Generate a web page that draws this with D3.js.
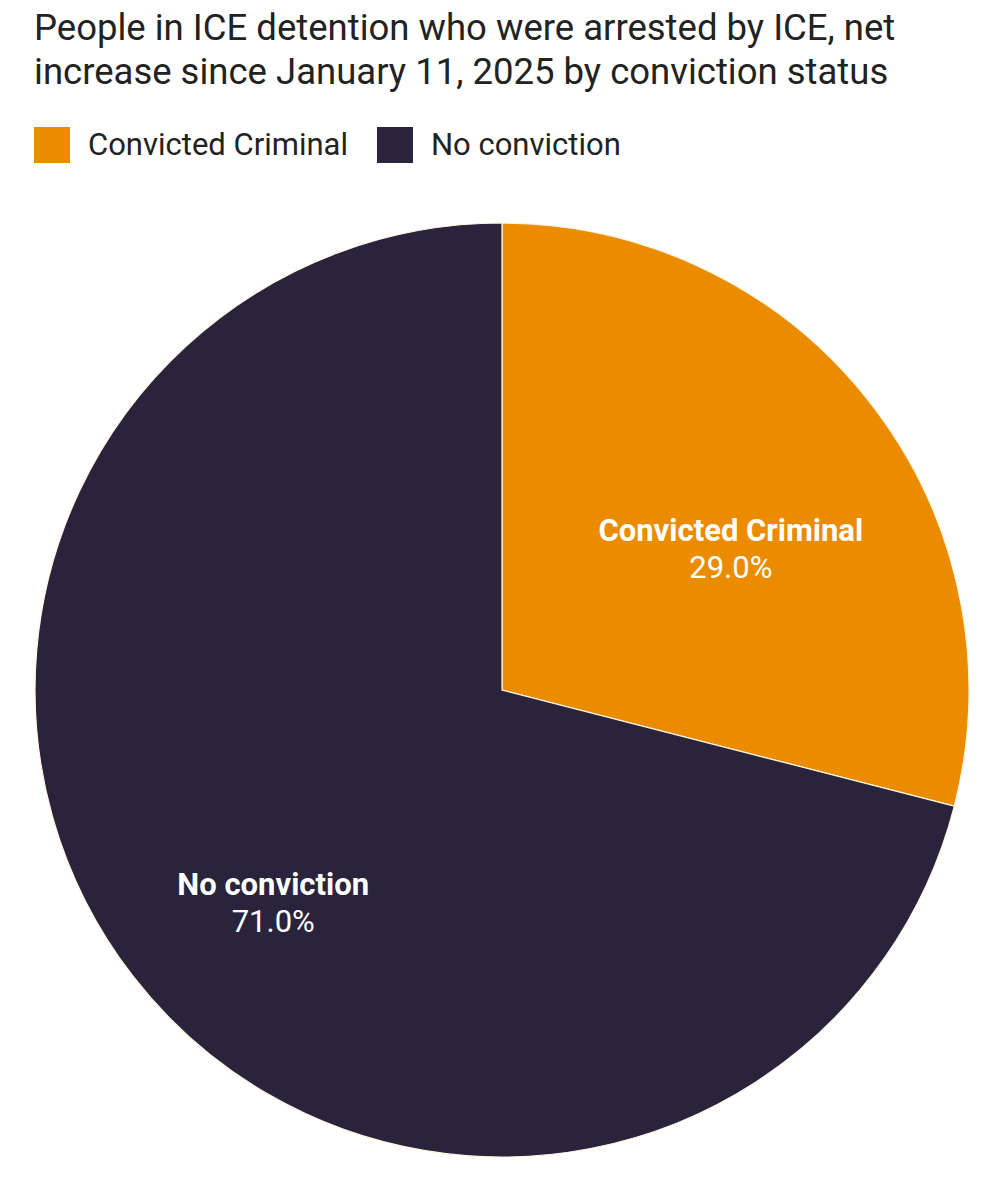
<!DOCTYPE html>
<html>
<head>
<meta charset="utf-8">
<script src="https://cdn.jsdelivr.net/npm/d3@7"></script>
<style>
  body { margin: 0; background: #fff; }
</style>
</head>
<body>
<script>
// data
const categories = ["Convicted Criminal", "No conviction"];
const shares = [29.0, 71.0];
const colors = ["#eb8c00", "#29233c"];
const titleLines = [
    "People in ICE detention who were arrested by ICE, net",
    "increase since January 11, 2025 by conviction status"
];

let width = 1007;
let height = 1200;
let cx = 502;
let cy = 690;
let radius = 467;

let svg = d3.select("body").append("svg")
    .attr("width", width)
    .attr("height", height)
    .attr("viewBox", [0, 0, width, height])
    .style("font-family", "Roboto, sans-serif");

// Title
svg.append("g")
    .selectAll("text")
    .data(titleLines)
    .join("text")
    .attr("x", 34)
    .attr("y", (d, i) => 40 + i * 44)
    .attr("font-size", "36.5px")
    .attr("fill", "#222")
    .text(d => d);

// Legend
const legend = svg.append("g")
    .attr("transform", "translate(34,127)");

let offset = 0;
categories.forEach((c, i) => {
    const row = legend.append("g")
        .attr("transform", `translate(${offset},0)`);
    row.append("rect")
        .attr("width", 36)
        .attr("height", 36)
        .attr("fill", colors[i]);
    const t = row.append("text")
        .attr("x", 54)
        .attr("y", 28)
        .attr("font-size", "31px")
        .attr("fill", "#222")
        .text(c);
    offset += 54 + t.node().getComputedTextLength() + 29;
});

// Pie
const data = categories.map((c, i) => ({ category: c, value: shares[i] }));
const pie = d3.pie().value(d => d.value).sort(null);
const arc = d3.arc().innerRadius(0).outerRadius(radius);
const labelArc = d3.arc().innerRadius(radius * 0.62).outerRadius(radius * 0.62);

const g = svg.append("g")
    .attr("transform", `translate(${cx},${cy})`);

const arcs = pie(data);

g.selectAll("path")
    .data(arcs)
    .join("path")
    .attr("d", arc)
    .attr("fill", (d, i) => colors[i])
    .attr("stroke", "#fff6e0")
    .attr("stroke-width", 1.2);

const labels = g.selectAll("g.label")
    .data(arcs)
    .join("g")
    .attr("class", "label")
    .attr("transform", d => {
        const [x, y] = labelArc.centroid(d);
        return `translate(${x},${y})`;
    });

labels.append("text")
    .attr("text-anchor", "middle")
    .attr("y", 28)
    .attr("font-size", "31px")
    .attr("font-weight", "bold")
    .attr("fill", "#fff")
    .text(d => d.data.category);

labels.append("text")
    .attr("text-anchor", "middle")
    .attr("y", 65)
    .attr("font-size", "31px")
    .attr("fill", "#fff")
    .text(d => d.data.value.toFixed(1) + "%");
</script>
</body>
</html>
